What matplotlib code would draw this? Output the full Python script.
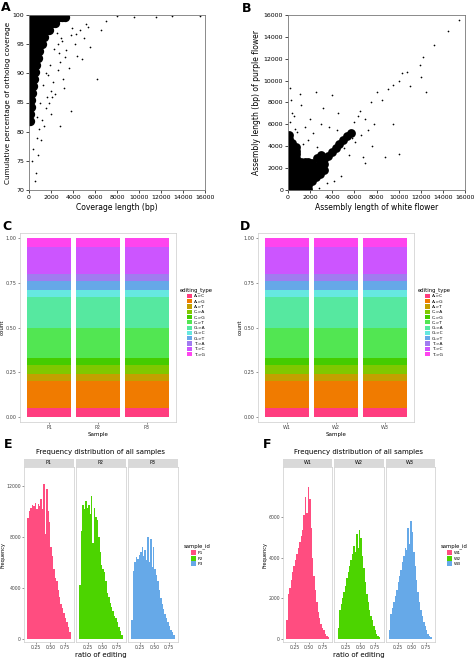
import matplotlib
matplotlib.use("Agg")
import matplotlib.pyplot as plt
import numpy as np
from matplotlib.patches import Patch

# ---- panel A: coverage scatter (dense core + sparse outliers)
a_core = [(x, 99.6) for x in [50, 300, 600, 900, 1200, 1500, 1800, 2100, 2400, 2700, 3000, 3300]] + \
    [(x, 98.6) for x in [50, 300, 600, 900, 1200, 1500, 1800, 2100, 2400]] + \
    [(x, 97.4) for x in [50, 300, 600, 900, 1200, 1500, 1800]] + \
    [(x, 96.2) for x in [50, 300, 600, 900, 1200, 1400]] + \
    [(x, 95) for x in [50, 300, 600, 900, 1150]] + \
    [(x, 93.8) for x in [50, 300, 600, 900]] + \
    [(x, 92.6) for x in [50, 300, 600, 800]] + \
    [(x, 91.4) for x in [50, 300, 600]] + \
    [(x, 90.2) for x in [50, 300, 500]] + \
    [(x, 89) for x in [50, 300, 450]] + \
    [(x, 87.8) for x in [50, 250, 400]] + \
    [(x, 86.6) for x in [50, 250]] + [(x, 85.4) for x in [50, 200]] + [(x, 84.2) for x in [50, 200]] + \
    [(50, 83), (50, 81.8)]
a_sparse_x = [2500, 3000, 3400, 2800, 3800, 4200, 4600, 5000, 5400, 4400, 3600, 3100, 2600, 2000, 1800, 2200,
              1500, 1200, 900, 700, 400, 300, 600, 500, 6200, 3800, 2800, 4800, 5500, 6500, 7000, 8000,
              9500, 11500, 13000, 15500, 1600, 2400, 3200, 2000, 1400, 1100, 800, 2700, 3300, 1900,
              2300, 1300, 1700, 3900, 4300, 5200, 2900, 1000, 700, 1500, 2100, 2600]
a_sparse_y = [97, 95.5, 94, 92, 96.5, 95, 97.5, 96, 98, 93, 91, 89, 90.5, 87, 85, 88.5,
              84, 82, 80.5, 79, 77, 75, 73, 71.5, 89, 83.5, 81, 92.5, 94.5, 97.5, 99, 99.8,
              99.6, 99.7, 99.8, 99.9, 86, 86.5, 87.5, 83, 81, 78.5, 76, 93.5, 92.8, 91.5,
              94.2, 88, 89.8, 97.8, 96.8, 98.5, 96, 85, 82.5, 90, 86, 95]

# ---- panel B: assembly length scatter
b_core = [(x, y) for y in [100, 450, 800, 1150, 1500, 1850, 2200, 2550] for x in [100, 450, 800, 1150, 1500, 1850]] + \
    [(x, y) for y in [2900, 3250, 3600, 3950] for x in [100, 400, 700]] + \
    [(100, 4300), (100, 4650), (100, 5000), (350, 4300), (2200, 1800), (2550, 2100), (2900, 2450), (3250, 2800),
     (3600, 3150), (3950, 3500), (4300, 3850), (4650, 4200), (5000, 4550), (5350, 4900), (5700, 5250),
     (2200, 800), (2550, 1150), (2900, 1500), (3250, 1850), (2200, 1300), (2550, 1650), (2900, 2000),
     (3250, 2350), (2200, 2500), (2600, 2900), (3000, 3200)]
b_sparse_x = [200, 300, 400, 200, 600, 1100, 2500, 3200, 4000, 4500, 3000, 2000, 1500, 6000, 6500, 7000,
              7500, 7200, 8000, 8500, 9000, 9500, 10000, 10300, 10800, 11000, 12000, 12200, 12500, 13200,
              14500, 15500, 6800, 7600, 8800, 10000, 9500, 7000, 5800, 5500, 4800, 4200, 3500, 2800,
              500, 800, 1200, 6300, 7800, 11900, 1800, 2300, 3700, 4400, 5100, 6100, 6600, 2600, 1400]
b_sparse_y = [9300, 8200, 7000, 6200, 5600, 8800, 9000, 7500, 8700, 7000, 6000, 6500, 5800, 6200, 7200, 6500,
              8000, 5500, 9000, 8200, 9200, 9600, 10000, 10700, 10800, 9500, 10300, 12200, 9000, 13300,
              14500, 15500, 3000, 4000, 3000, 3300, 6000, 2500, 4800, 3200, 1300, 800, 600, 200,
              6800, 5300, 7800, 6800, 6000, 11400, 4600, 5200, 5800, 5500, 3800, 4400, 5000, 3900, 4200]

# ---- panels C/D: editing type proportions (bottom to top)
edit_types = ["A->C", "A->G", "A->T", "C->A", "C->G", "C->T", "G->A", "G->C", "G->T", "T->A", "T->C", "T->G"]
edit_colors = ["#FF3D7F", "#F07B00", "#C3A000", "#80C800", "#45CC00", "#52E652", "#56E8A0", "#66E8E0",
               "#66A8E8", "#A07CF0", "#CC55FF", "#FF44EE"]
c_samples = ["P1", "P2", "P3"]
d_samples = ["W1", "W2", "W3"]
edit_props = [0.05, 0.15, 0.04, 0.05, 0.04, 0.17, 0.17, 0.04, 0.05, 0.04, 0.15, 0.05]

# ---- panels E/F: histograms of ratio of editing
bin_edges = np.linspace(0.1, 0.85, 31)
hist_p = {
    "P1": [9500, 10000, 10300, 10500, 10400, 10700, 10200, 10600, 10400, 11000, 10200, 12200, 8200, 11800, 10000,
           9200, 7200, 6500, 5500, 4800, 4500, 3800, 3300, 2700, 2400, 2000, 1600, 1300, 900, 500],
    "P2": [4200, 8500, 10500, 10200, 10800, 10300, 10500, 9800, 11200, 7500, 10300, 9600, 9300, 8000, 6800,
           5800, 5500, 5200, 4500, 3600, 3300, 2800, 2500, 2200, 1800, 1600, 1300, 900, 600, 300],
    "P3": [1500, 5300, 6000, 6400, 6300, 6600, 6800, 7200, 6500, 7000, 6200, 8000, 6000, 7800, 5600,
           7200, 5500, 5000, 4500, 3800, 3200, 2700, 2300, 1900, 1600, 1300, 1000, 700, 500, 300],
}
hist_w = {
    "W1": [900, 2200, 2500, 2900, 3300, 3600, 3900, 4200, 4500, 4800, 5100, 5400, 6100, 7000, 6200,
           7500, 6900, 5500, 4000, 3100, 2400, 1800, 1300, 1000, 700, 500, 400, 250, 150, 80],
    "W2": [500, 1400, 1700, 2000, 2300, 2600, 3000, 3300, 3600, 3900, 4200, 4600, 4300, 5200, 4500,
           5400, 5000, 4100, 3500, 2800, 2200, 1800, 1400, 1100, 900, 600, 400, 250, 150, 80],
    "W3": [400, 1200, 1500, 1800, 2100, 2400, 2800, 3100, 3400, 3800, 4100, 4500, 4400, 5500, 4700,
           5800, 5300, 4300, 3600, 2900, 2300, 1800, 1400, 1100, 800, 600, 400, 250, 150, 80],
}
sample_colors = ["#FF4D80", "#4CD400", "#66A9E8"]

W, H = 474, 664
fig = plt.figure(figsize=(W / 100, H / 100), dpi=100)


def ax_px(x0, y0, x1, y1):
    return fig.add_axes([x0 / W, 1 - y1 / H, (x1 - x0) / W, (y1 - y0) / H])


def style_excel(ax):
    ax.tick_params(labelsize=4.5, length=2, width=0.5, pad=1.5)
    for s in ax.spines.values():
        s.set_linewidth(0.6)
        s.set_color("#777777")


# A
ax = ax_px(29, 15, 205, 190)
ax.scatter([p[0] for p in a_core], [p[1] for p in a_core], s=45, c="black", marker="o", linewidths=0)
ax.scatter(a_sparse_x, a_sparse_y, s=1.5, c="black", linewidths=0)
ax.set_xlim(0, 16000)
ax.set_ylim(70, 100)
ax.set_xticks(range(0, 16001, 2000))
ax.set_yticks(range(70, 101, 5))
ax.set_xlabel("Coverage length (bp)", fontsize=5.5, labelpad=2)
ax.set_ylabel("Cumulative percentage of ortholog coverage", fontsize=5.2, labelpad=1)
style_excel(ax)
fig.text(1 / W, 1 - 11 / H, "A", fontsize=9, fontweight="bold")

# B
ax = ax_px(288, 15, 465, 190)
ax.scatter([p[0] for p in b_core], [p[1] for p in b_core], s=40, c="black", marker="o", linewidths=0)
ax.scatter(b_sparse_x, b_sparse_y, s=1.5, c="black", linewidths=0)
ax.set_xlim(0, 16000)
ax.set_ylim(0, 16000)
ax.set_xticks(range(0, 16001, 2000))
ax.set_yticks(range(0, 16001, 2000))
ax.set_xlabel("Assembly length of white flower", fontsize=5.5, labelpad=2)
ax.set_ylabel("Assembly length (bp) of purple flower", fontsize=5.5, labelpad=2)
style_excel(ax)
fig.text(242 / W, 1 - 12 / H, "B", fontsize=9, fontweight="bold")


def stacked(x0, x1, samples, label, lx):
    ax = ax_px(x0, 233, x1, 422)
    bottoms = np.zeros(len(samples))
    for t, c, p in zip(edit_types, edit_colors, edit_props):
        ax.bar(samples, [p] * len(samples), bottom=bottoms, color=c, width=0.9, linewidth=0)
        bottoms += p
    ax.set_ylim(-0.03, 1.03)
    ax.set_xlim(-0.6, 2.6)
    ax.set_yticks([0, 0.25, 0.5, 0.75, 1.0])
    ax.set_yticklabels(["0.00", "0.25", "0.50", "0.75", "1.00"])
    ax.tick_params(labelsize=3.5, length=1.5, width=0.4, pad=1, colors="#444444")
    for s in ax.spines.values():
        s.set_linewidth(0.5)
        s.set_color("#cccccc")
    ax.set_xlabel("Sample", fontsize=4, labelpad=1)
    ax.set_ylabel("count", fontsize=4, labelpad=1)
    handles = [Patch(facecolor=c, label=t) for t, c in zip(edit_types, edit_colors)]
    fig.legend(handles=handles, title="editing_type", loc="center left",
               bbox_to_anchor=(lx / W, 1 - 322 / H), fontsize=3.2, title_fontsize=3.8,
               frameon=False, handlelength=1.2, handleheight=1.1, labelspacing=0.15,
               borderaxespad=0, handletextpad=0.4)
    fig.text((x0 - 18) / W, 1 - 230 / H, label, fontsize=9, fontweight="bold")


stacked(20, 176, c_samples, "C", 178)
stacked(258, 414, d_samples, "D", 416)


def hists(x0, x1, data, yticks, ymax, label):
    names = list(data.keys())
    pw = (x1 - x0 - 4) / 3
    fig.text((x0 + x1) / 2 / W, 1 - 452 / H, "Frequency distribution of all samples",
             fontsize=5, ha="center", va="center")
    for i, n in enumerate(names):
        px0 = x0 + i * (pw + 2)
        ax = ax_px(px0, 467, px0 + pw, 642)
        ax.bar(bin_edges[:-1], data[n], width=np.diff(bin_edges), align="edge",
               color=sample_colors[i], linewidth=0)
        ax.set_xlim(0.04, 0.91)
        ax.set_ylim(-ymax * 0.02, ymax)
        ax.set_xticks([0.25, 0.5, 0.75])
        ax.set_xticklabels(["0.25", "0.50", "0.75"])
        ax.set_yticks(yticks)
        ax.tick_params(labelsize=3.3, length=1.5, width=0.4, pad=0.8, colors="#444444")
        if i > 0:
            ax.set_yticklabels([])
            ax.tick_params(axis="y", length=0)
        for s in ax.spines.values():
            s.set_linewidth(0.5)
            s.set_color("#cccccc")
        sax = ax_px(px0, 459, px0 + pw, 467)
        sax.set_facecolor("#d9d9d9")
        sax.set_xticks([])
        sax.set_yticks([])
        for s in sax.spines.values():
            s.set_visible(False)
        sax.text(0.5, 0.5, n, fontsize=3.5, ha="center", va="center", transform=sax.transAxes)
        if i == 0:
            ax.set_ylabel("Frequency", fontsize=3.6, labelpad=0.5)
        if i == 1:
            ax.set_xlabel("ratio of editing", fontsize=5, labelpad=1)
    handles = [Patch(facecolor=c, label=n) for n, c in zip(names, sample_colors)]
    fig.legend(handles=handles, title="sample_id", loc="center left",
               bbox_to_anchor=((x1 + 4) / W, 1 - 555 / H), fontsize=3.2, title_fontsize=3.8,
               frameon=False, handlelength=1.2, handleheight=1.3, labelspacing=0.15,
               borderaxespad=0, handletextpad=0.4)
    fig.text((x0 - 20) / W, 1 - 448 / H, label, fontsize=9, fontweight="bold")


hists(24, 178, hist_p, [0, 4000, 8000, 12000], 13500, "E")
hists(283, 435, hist_w, [0, 2000, 4000, 6000], 8500, "F")

fig.savefig("out.png", dpi=100)
